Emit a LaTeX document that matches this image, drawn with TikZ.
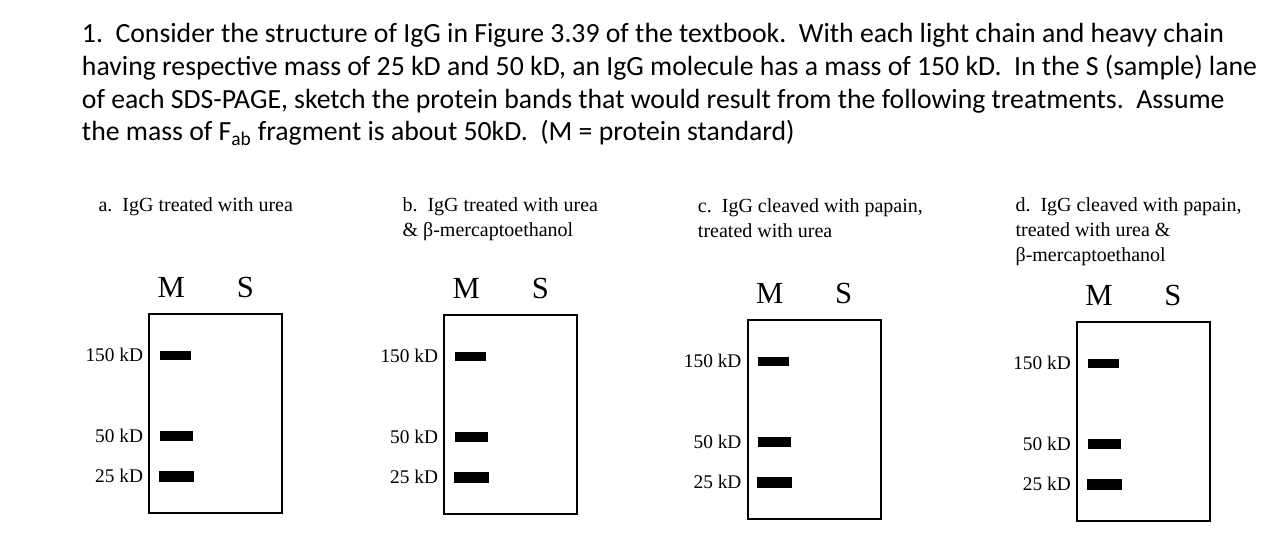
\documentclass[tikz,border=0pt]{standalone}
\usepackage{fontspec}
\setmainfont{Liberation Serif}
\newfontfamily\qfont{Carlito}
\tikzset{
  gelbox/.style={draw, line width=1.5pt, minimum width=99.75pt, minimum height=149.25pt, inner sep=0pt},
  band/.style={fill=black, inner sep=0pt},
  kd/.style={anchor=east, inner sep=0pt, xshift=-3.75pt, font=\fontsize{14.5}{17}\selectfont},
  lane/.style={inner sep=0pt, font=\fontsize{23}{26}\selectfont},
  treat/.style={anchor=north west, align=left, inner sep=0pt, font=\fontsize{15}{18.75}\selectfont},
  qline/.style={anchor=base west, inner sep=0pt, font=\qfont\fontsize{20.8}{24}\selectfont},
}
\begin{document}
\frenchspacing
\begin{tikzpicture}[x=0.75pt, y=-0.75pt]
\path[fill=white] (0,0) rectangle (1284,547);
% question
\node[qline] (q1) at (81.7,42.5) {1.\ \ Consider the structure of IgG in Figure 3.39 of the textbook.\ \ With each light chain and heavy chain};
\node[qline] (q2) at (81.7,75.3) {having respective mass of 25 kD and 50 kD, an IgG molecule has a mass of 150 kD.\ \ In the S (sample) lane};
\node[qline] (q3) at (81.7,108.1) {of each SDS-PAGE, sketch the protein bands that would result from the following treatments.\ \ Assume};
\node[qline] (q4) at (81.7,140.9) {the mass of F\textsubscript{ab} fragment is about 50kD.\ \ (M = protein standard)};
% treatments
\node[treat] (t-a) at (98.3,197.3) {a.\ \ IgG treated with urea};
\node[treat] (t-b) at (402.3,197.3) {b.\ \ IgG treated with urea\\\& β-mercaptoethanol};
\node[treat] (t-c) at (697.7,198.3) {c.\ \ IgG cleaved with papain,\\treated with urea};
\node[treat] (t-d) at (1015.3,197.8) {d.\ \ IgG cleaved with papain,\\treated with urea \&\\β-mercaptoethanol};
% gels
\foreach \p/\bx/\by in {a/149.3/314.3, b/444.3/315.3, c/747.7/320.3, d/1077/322.3}{
  \node[gelbox] (gel-\p) at (\bx+66.5,\by+99.5) {};
  \node[lane] (m-\p) at (\bx+22,\by-27) {M};
  \node[lane] (s-\p) at (\bx+96,\by-27) {S};
  \node[band, minimum width=23.25pt, minimum height=6.75pt] (b150-\p) at (\bx+26,\by+41) {};
  \node[band, minimum width=24.75pt, minimum height=7.5pt] (b50-\p) at (\bx+27,\by+122) {};
  \node[band, minimum width=26.25pt, minimum height=7.9pt] (b25-\p) at (\bx+27,\by+162) {};
  \node[kd] (k150-\p) at (gel-\p.west |- b150-\p) {150 kD};
  \node[kd] (k50-\p) at (gel-\p.west |- b50-\p) {50 kD};
  \node[kd] (k25-\p) at (gel-\p.west |- b25-\p) {25 kD};
}
\end{tikzpicture}
\end{document}
